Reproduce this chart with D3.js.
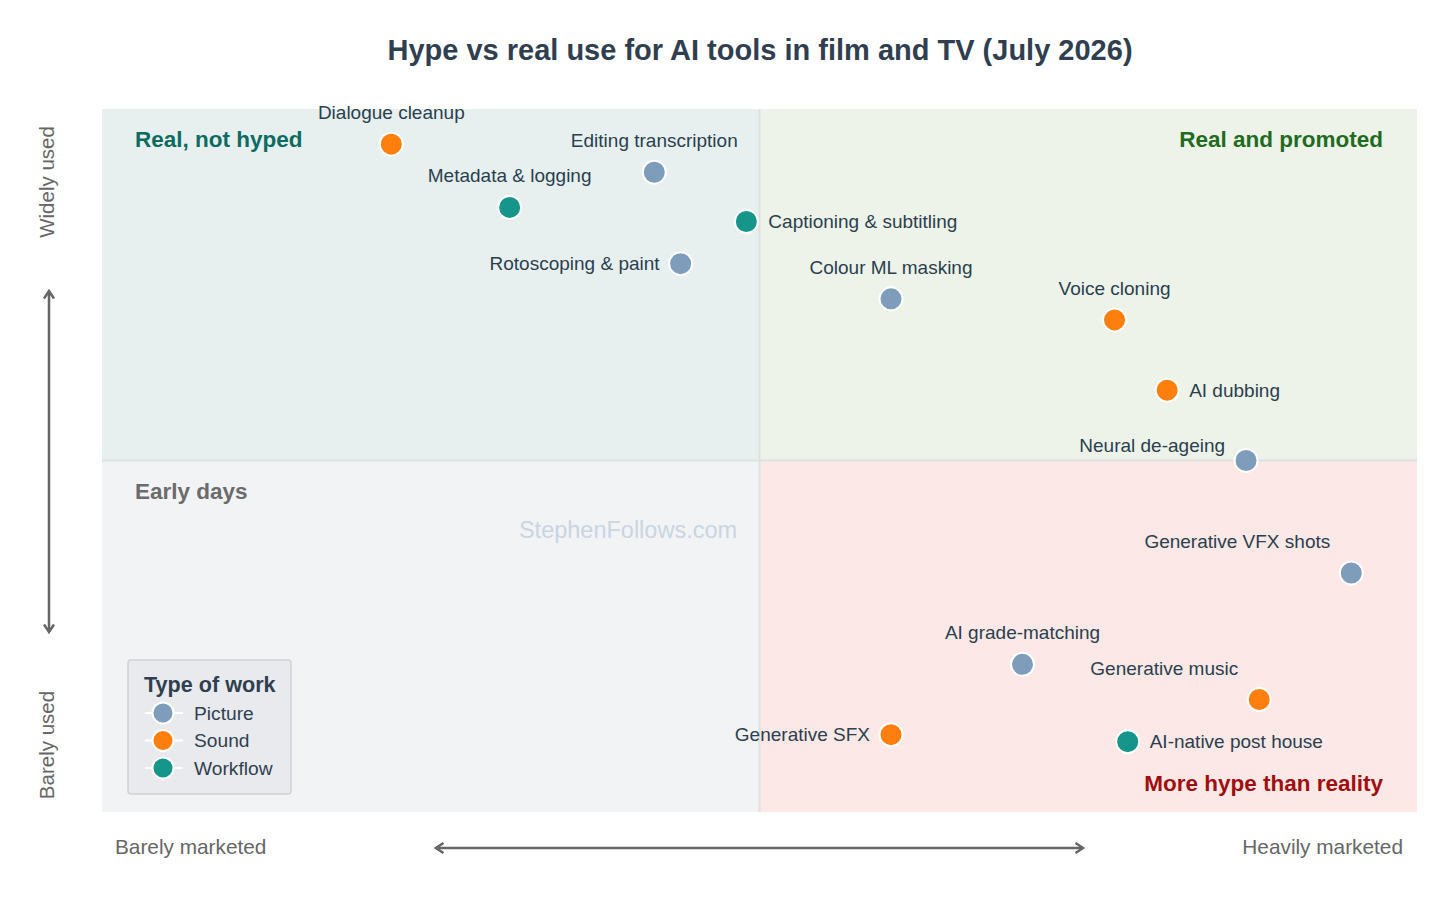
<!DOCTYPE html>
<html><head><meta charset="utf-8">
<script src="https://cdn.jsdelivr.net/npm/d3@7"></script>
<style>body{margin:0;background:#fff;font-family:"Liberation Sans",Arial,sans-serif;}</style>
</head><body><svg id="c" width="1456" height="897"></svg>
<script>
const names = ["Dialogue cleanup","Editing transcription","Metadata & logging","Captioning & subtitling","Rotoscoping & paint","Colour ML masking","Voice cloning","AI dubbing","Neural de-ageing","Generative VFX shots","AI grade-matching","Generative music","Generative SFX","AI-native post house"];
const marketing = [2.2,4.2,3.1,4.9,4.4,6.0,7.7,8.1,8.7,9.5,7.0,8.8,6.0,7.8];
const usage =     [9.5,9.1,8.6,8.4,7.8,7.3,7.0,6.0,5.0,3.4,2.1,1.6,1.1,1.0];
const types = ["Sound","Picture","Workflow","Workflow","Picture","Picture","Sound","Sound","Picture","Picture","Picture","Sound","Sound","Workflow"];
const labelPos = ["top","top","top","right","left","top","top","right","upleft","topleft","top","topleft","left","right"];
const typeNames = ["Picture","Sound","Workflow"];
const typeColors = ["#7d9dba","#ff7f0e","#16968a"];

const svg = d3.select("#c");
const L=102,R=1417,T=109,B=812;
const x = d3.scaleLinear().domain([0,10]).range([L,R]);
const y = d3.scaleLinear().domain([0,10]).range([B,T]);
const color = d3.scaleOrdinal().domain(typeNames).range(typeColors);

const quads = [
 {x0:0,x1:5,y0:5,y1:10,fill:"#e7f0ef"},
 {x0:5,x1:10,y0:5,y1:10,fill:"#edf3e8"},
 {x0:0,x1:5,y0:0,y1:5,fill:"#f2f3f5"},
 {x0:5,x1:10,y0:0,y1:5,fill:"#fce8e6"}];
svg.selectAll("rect.q").data(quads).join("rect")
 .attr("x",d=>x(d.x0)).attr("y",d=>y(d.y1))
 .attr("width",d=>x(d.x1)-x(d.x0)).attr("height",d=>y(d.y0)-y(d.y1))
 .attr("fill",d=>d.fill);
svg.append("line").attr("x1",x(5)).attr("x2",x(5)).attr("y1",y(10)).attr("y2",y(0)).attr("stroke","#dde1e4").attr("stroke-width",2);
svg.append("line").attr("x1",x(0)).attr("x2",x(10)).attr("y1",y(5)).attr("y2",y(5)).attr("stroke","#dde1e4").attr("stroke-width",2);

const qt = [
 {t:"Real, not hyped",x:135,y:147,a:"start",c:"#0d6b62"},
 {t:"Real and promoted",x:1383,y:147,a:"end",c:"#1f6b1f"},
 {t:"Early days",x:135,y:499,a:"start",c:"#6b6b6b"},
 {t:"More hype than reality",x:1383,y:791,a:"end",c:"#a00f0f"}];
svg.selectAll("text.qt").data(qt).join("text").attr("x",d=>d.x).attr("y",d=>d.y)
 .attr("text-anchor",d=>d.a).attr("fill",d=>d.c).attr("font-size",22.5).attr("font-weight","bold").text(d=>d.t);

svg.append("text").attr("x",628).attr("y",538).attr("text-anchor","middle").attr("fill","#c9d5e2").attr("font-size",23.5).text("StephenFollows.com");

svg.append("text").attr("x",760).attr("y",60).attr("text-anchor","middle").attr("fill","#2f3f50").attr("font-size",29).attr("font-weight","bold").text("Hype vs real use for AI tools in film and TV (July 2026)");

const defs=svg.append("defs");
defs.append("marker").attr("id","ah").attr("viewBox","0 0 10 10").attr("refX",8).attr("refY",5).attr("markerWidth",5).attr("markerHeight",5).attr("orient","auto-start-reverse")
 .append("path").attr("d","M2,1 L8,5 L2,9").attr("fill","none").attr("stroke","#666").attr("stroke-width",2);
svg.append("line").attr("x1",436).attr("x2",1083).attr("y1",848).attr("y2",848).attr("stroke","#666").attr("stroke-width",2.5).attr("marker-start","url(#ah)").attr("marker-end","url(#ah)");
svg.append("line").attr("x1",49).attr("x2",49).attr("y1",291).attr("y2",632).attr("stroke","#666").attr("stroke-width",2.5).attr("marker-start","url(#ah)").attr("marker-end","url(#ah)");
svg.append("text").attr("x",115).attr("y",854).attr("fill","#666").attr("font-size",20.8).text("Barely marketed");
svg.append("text").attr("x",1403).attr("y",854).attr("text-anchor","end").attr("fill","#666").attr("font-size",20.8).text("Heavily marketed");
svg.append("text").attr("transform","translate(54,182) rotate(-90)").attr("text-anchor","middle").attr("fill","#666").attr("font-size",20.5).text("Widely used");
svg.append("text").attr("transform","translate(54,745) rotate(-90)").attr("text-anchor","middle").attr("fill","#666").attr("font-size",20.5).text("Barely used");

const data = names.map((n,i)=>({n,mx:marketing[i],u:usage[i],t:types[i],p:labelPos[i]}));
svg.selectAll("circle.pt").data(data).join("circle")
 .attr("cx",d=>x(d.mx)).attr("cy",d=>y(d.u)).attr("r",11.5)
 .attr("fill",d=>color(d.t)).attr("stroke","#fff").attr("stroke-width",2);
svg.selectAll("text.lb").data(data).join("text")
 .attr("x",d=>{const cx=x(d.mx); if(d.p==="right")return cx+22; if(d.p==="top")return cx; return cx-21;})
 .attr("y",d=>{const cy=y(d.u); if(d.p==="top")return cy-25; if(d.p==="topleft")return cy-25; if(d.p==="upleft")return cy-9; return cy+6.5;})
 .attr("text-anchor",d=>d.p==="right"?"start":(d.p==="top"?"middle":"end"))
 .attr("fill","#2a3f50").attr("font-size",19).text(d=>d.n);

const lg = svg.append("g");
lg.append("rect").attr("x",128).attr("y",660).attr("width",163).attr("height",134).attr("rx",3).attr("fill","#e8eaed").attr("stroke","#cfd2d6").attr("stroke-width",1.5);
lg.append("text").attr("x",144).attr("y",692).attr("fill","#2f3f50").attr("font-size",21.6).attr("font-weight","bold").text("Type of work");
const li = lg.selectAll("g.li").data(typeNames).join("g").attr("transform",(d,i)=>`translate(0,${713+i*27.5})`);
li.append("line").attr("x1",145).attr("x2",183).attr("stroke","#fff").attr("stroke-width",2);
li.append("circle").attr("cx",163).attr("r",10.5).attr("fill",d=>color(d)).attr("stroke","#fff").attr("stroke-width",2);
li.append("text").attr("x",194).attr("y",6.5).attr("fill","#2f3f50").attr("font-size",19.2).text(d=>d);
</script></body></html>
